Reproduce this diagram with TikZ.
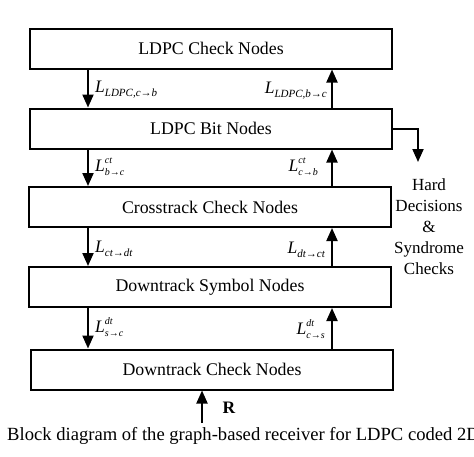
\documentclass[tikz,border=0pt]{standalone}
\usepackage{fontspec}
\setmainfont{Liberation Serif}
\usetikzlibrary{arrows.meta}
\newcommand{\Lsub}[1]{\textit{L}\raisebox{-4pt}{\fontsize{11}{11}\selectfont\itshape #1}}
\newcommand{\Lss}[2]{\textit{L}\rlap{\raisebox{8pt}{\fontsize{10}{10}\selectfont\itshape #1}}\raisebox{-4pt}{\fontsize{10}{10}\selectfont\itshape #2}}
\begin{document}
\begin{tikzpicture}[x=1pt,y=-1pt,
  blk/.style={draw, line width=2pt, minimum width=362pt, minimum height=40pt, inner sep=0pt, font=\fontsize{17.8}{20}\selectfont},
  arr/.style={line width=2pt, -{Triangle[length=13pt,width=11pt]}},
  lab/.style={inner sep=0pt, font=\fontsize{17.5}{20}\selectfont}]
\useasboundingbox (0,0) rectangle (474,456);
\node[blk] (b1) at (211,48.5) {LDPC Check Nodes};
\node[blk] (b2) at (211,128.5) {LDPC Bit Nodes};
\node[blk] (b3) at (210,207) {Crosstrack Check Nodes};
\node[blk] (b4) at (210,287) {Downtrack Symbol Nodes};
\node[blk] (b5) at (212,369.5) {Downtrack Check Nodes};
\coordinate (dl) at (88,0);
\coordinate (ul) at (332,0);
\draw[arr] (b1.south -| dl) -- (b2.north -| dl);
\draw[arr] (b2.south -| dl) -- (b3.north -| dl);
\draw[arr] (b3.south -| dl) -- (b4.north -| dl);
\draw[arr] (b4.south -| dl) -- (b5.north -| dl);
\draw[arr] (b2.north -| ul) -- (b1.south -| ul);
\draw[arr] (b3.north -| ul) -- (b2.south -| ul);
\draw[arr] (b4.north -| ul) -- (b3.south -| ul);
\draw[arr] (b5.north -| ul) -- (b4.south -| ul);
\node[lab, anchor=base west] (l1) at (95,92) {\Lsub{LDPC,c→b}};
\node[lab, anchor=base east] (r1) at (327,93) {\Lsub{LDPC,b→c}};
\node[lab, anchor=base west] (l2) at (95,171) {\Lss{ct}{b→c}};
\node[lab, anchor=base east] (r2) at (318,171) {\Lss{ct}{c→b}};
\node[lab, anchor=base west] (l3) at (95,252) {\Lsub{ct→dt}};
\node[lab, anchor=base east] (r3) at (325,253) {\Lsub{dt→ct}};
\node[lab, anchor=base west] (l4) at (95,332) {\Lss{dt}{s→c}};
\node[lab, anchor=base east] (r4) at (325,334) {\Lss{dt}{c→s}};
\coordinate (hd) at (418,162);
\draw[arr] (b2.east) -| (hd);
\node[lab, align=center, font=\fontsize{17}{21}\selectfont] (hard) at (429,226.5) {Hard\\Decisions\\\&\\Syndrome\\Checks};
\coordinate (rin) at (202,423);
\draw[arr] (rin) -- (b5.south -| rin);
\node[lab, font=\fontsize{17.5}{20}\selectfont\bfseries] (R) at (229,408) {R};
\node[lab, anchor=base west, font=\fontsize{18.6}{20}\selectfont] (cap) at (7,440) {Block diagram of the graph-based receiver for LDPC coded 2D};
\end{tikzpicture}
\end{document}
